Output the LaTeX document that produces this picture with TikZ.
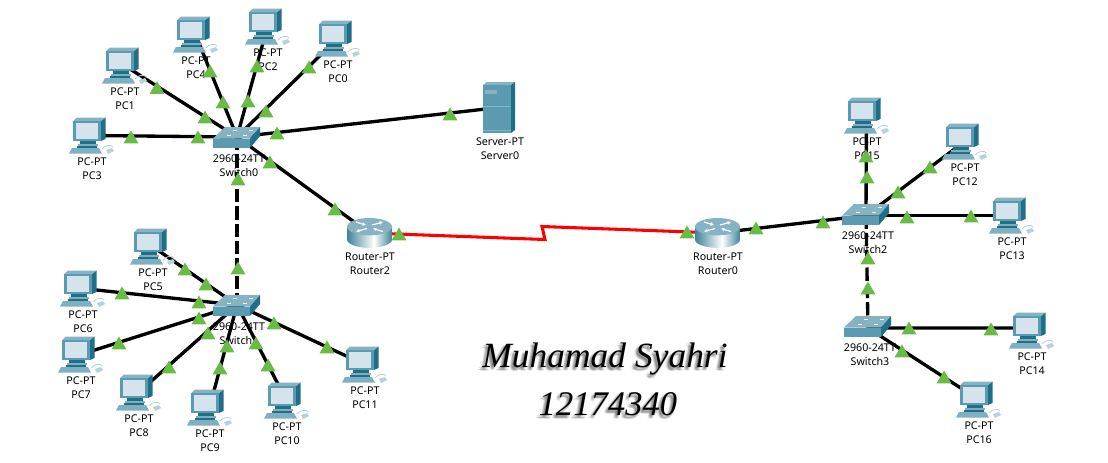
\documentclass[tikz,border=0pt]{standalone}
\usepackage{fontspec}
\setmainfont{Noto Sans}
\newfontfamily\signfont{Liberation Serif}
\usetikzlibrary{arrows.meta,calc,shapes.geometric,backgrounds}
\definecolor{front}{HTML}{5B9BB1}
\definecolor{side}{HTML}{1F6F88}
\definecolor{topface}{HTML}{86B3C4}
\definecolor{screen}{HTML}{D5E4EC}
\definecolor{base}{HTML}{7FB0C2}
\definecolor{wire}{HTML}{B5D2DD}
\definecolor{routerdark}{HTML}{3F8299}
\definecolor{portgreen}{HTML}{6ABB45}
\tikzset{
  device/.style={inner sep=0pt,minimum width=33.75pt,minimum height=27.75pt},
  devlabel/.style={align=center,inner sep=0pt,font=\fontsize{8}{10.5}\selectfont},
  port/.style={
    regular polygon,regular polygon sides=3,draw=none,fill=portgreen,
    inner sep=0pt,minimum size=12.8pt,yshift=-1.5pt
  },
  link/.style={draw=black,line width=2.5pt},
  crossed/.style={link,dash pattern=on 10pt off 3pt},
  serial/.style={draw=red,line width=2.3pt},
  signtext/.style={anchor=base,inner sep=0pt,font=\signfont\itshape\fontsize{26.6}{30}\selectfont},
  numtext/.style={anchor=base,inner sep=0pt,font=\signfont\itshape\fontsize{25.9}{30}\selectfont},
  pcicon/.pic={
    \begin{scope}[shift={(-22.5,-18.5)}]
    \fill[side] (32,4)--(36.5,.5)--(36.5,22)--(32,24)--cycle;
    \fill[topface] (4.3,4)--(8,.5)--(36.5,.5)--(32,4)--cycle;
    \fill[front] (4.3,4) rectangle (32,24);
    \fill[screen] (7,6) rectangle (29,21.5);
    \fill[side] (11,24) rectangle (27,27);
    \fill[base] (9,27) rectangle (29,29);
    \fill[base] (3,31)--(30,31)--(33,36.5)--(0,36.5)--cycle;
    \fill[side] (8,29) rectangle (28,31);
    \draw[wire,line width=.6pt] (33,32) .. controls (36,28) and (43,27) .. (44,30);
    \fill[wire] (37,33)--(43,31)--(45,34)--(39,37)--cycle;
    \end{scope}
  },
  switchicon/.pic={
    \begin{scope}[shift={(-24,-10)}]
    \fill[topface] (0,11.5)--(12,0)--(47,0)--(37,11.5)--cycle;
    \fill[side] (37,11.5)--(47,0)--(47,9)--(37,21)--cycle;
    \fill[front] (0,11.5) rectangle (37,21);
    \foreach \mx/\my in {20/3,36/3,14/8,30/8}
      \fill[white] (\mx,\my) rectangle +(4,1.3);
    \end{scope}
  },
  routericon/.pic={
    \begin{scope}[shift={(-22.5,-15)}]
    \begin{scope}
    \clip (0,8.7) -- (0,21.5) arc[start angle=180,end angle=360,x radius=16.875pt,y radius=6.3pt] -- (45,8.7) -- cycle;
    \shade[left color=routerdark,right color=white] (0,0) rectangle (27,31);
    \shade[left color=white,right color=routerdark] (27,0) rectangle (45,31);
    \end{scope}
    \fill[topface] (22.5,8.7) ellipse[x radius=16.875pt,y radius=6.5pt];
    \draw[white,line width=.9pt,-{Latex[length=2.5pt,width=3pt]}] (25,7)--(36,4);
    \draw[white,line width=.9pt,-{Latex[length=2.5pt,width=3pt]}] (20,10.5)--(9,13.5);
    \draw[white,line width=.9pt,-{Latex[length=2.5pt,width=3pt]}] (9,4)--(19,7);
    \draw[white,line width=.9pt,-{Latex[length=2.5pt,width=3pt]}] (36,13.5)--(26,10.5);
    \end{scope}
  },
  servericon/.pic={
    \begin{scope}[shift={(-16,-25.5)}]
    \fill[topface] (0,3)--(4,0)--(32,0)--(28,3)--cycle;
    \fill[side] (28,3)--(32,0)--(32,48)--(28,51)--cycle;
    \fill[front] (0,3) rectangle (28,51);
    \fill[topface] (2,8) rectangle (14,12);
    \draw[topface,line width=.5pt] (0,24)--(28,24) (0,48)--(28,48);
    \end{scope}
  }
}
\begin{document}
\begin{tikzpicture}[x=.75pt,y=-.75pt]
\useasboundingbox (0,0) rectangle (1108,462);
\foreach \name/\x/\y/\lab in {pc0/315/20/PC0,pc1/102/47/PC1,pc2/245/8/PC2,pc3/69/117/PC3,
  pc4/173/16/PC4,pc5/130/228/PC5,pc6/60/270/PC6,pc7/58/336/PC7,pc8/116/374/PC8,
  pc9/187/389/PC9,pc10/264/382/PC10,pc11/342/346/PC11,pc12/942/123/PC12,
  pc13/989/197/PC13,pc14/1009/312/PC14,pc15/844/97/PC15,pc16/956/381/PC16}{
  \node[device] (\name) at (\x+22.5,\y+18.5) {};
  \pic at (\name) {pcicon};
  \node[devlabel] (\name-label) at (\x+23,\y+52) {PC-PT\\\lab};
}
\foreach \name/\x/\y/\cy/\lab in {sw0/213/127/10/Switch0,sw1/213/295/10/Switch1,
  sw2/842/204/11.5/Switch2,sw3/844/316/12/Switch3}{
  \node[device,minimum height=15pt,minimum width=35pt] (\name) at (\x+24,\y+\cy) {};
  \pic at (\x+24,\y+10) {switchicon};
  \node[devlabel] (\name-label) at (\x+26,\y+38.5) {2960-24TT\\\lab};
}
\foreach \name/\x/\y/\lab in {r2/347/218/Router2,r0/695/218/Router0}{
  \node[device,minimum height=22.5pt] (\name) at (\x+22.5,\y+15) {};
  \pic at (\name) {routericon};
  \node[devlabel] (\name-label) at (\x+23,\y+46) {Router-PT\\\lab};
}
\node[device,minimum width=24pt,minimum height=38pt] (srv) at (499,107.5) {};
\pic at (srv) {servericon};
\node[devlabel] (srv-label) at (500,149) {Server-PT\\Server0};
\begin{scope}[on background layer]
\foreach \a/\b in {pc0/sw0,pc1/sw0,pc2/sw0,pc3/sw0,pc4/sw0,srv/sw0,r2/sw0,
  pc5/sw1,pc6/sw1,pc7/sw1,pc8/sw1,pc9/sw1,pc10/sw1,pc11/sw1,
  r0/sw2,pc12/sw2,pc13/sw2,pc15/sw2,pc16/sw3}
  \draw[link] (\a.center)--(\b.center);
\draw[link] ([yshift=1.9pt]pc14.center)--(sw3.center);
\draw[crossed] (sw0.center)--(sw1.center);
\draw[crossed] (sw2.center)--(sw3.center);
\draw[serial] (r2.center)--($(r2.center)!.5!(r0.center)+(1.5,6.5)$)--($(r2.center)!.5!(r0.center)+(-1.5,-6.5)$)--(r0.center);
\end{scope}
\foreach \x/\y [count=\i] in {157/87.5,205/117,210/71,223/102,257/66,248/101,309/67,266/111,
  131/137,198/137,277/133,450/114,270/162,335/209,238/179,238/268,
  185/269,206/284,122/293,199/302,119/343,199/318,169/367,208/333,
  220/368,227/346,268/365,256/343,327/347,274/323,
  399/234,687/232,756/228,823/222,866/156,867/177,930/167,898/192,
  971/216,907/217,868/258,868/288,909/328,991/329,902/351,944/377}
  \node[port] (port\i) at (\x,\y) {};
\foreach \dx/\dy [count=\i] in {-3/3,-2/2,-1/3,-3/1,-2/4,-4/3,-1/1}{
  \node[signtext,text=black,text opacity=.1] (nameshade\i) at (605+\dx,367+\dy) {Muhamad Syahri};
  \node[numtext,text=black,text opacity=.1] (numshade\i) at (608+\dx,415+\dy) {12174340};
}
\node[signtext] (signname) at (605,367) {Muhamad Syahri};
\node[numtext] (signnum) at (608,415) {12174340};
\end{tikzpicture}
\end{document}
